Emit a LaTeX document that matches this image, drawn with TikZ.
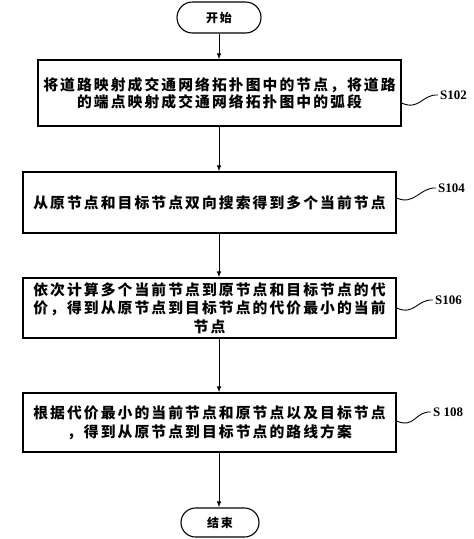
\documentclass[tikz,border=0pt]{standalone}
\usepackage{fontspec}
\newfontfamily\cjk{Noto Sans CJK SC}[LetterSpace=14]
\newfontfamily\lblfont{Liberation Serif}
\usetikzlibrary{shapes.misc,arrows.meta}
\begin{document}
\begin{tikzpicture}[x=1pt,y=-1pt,
  procbox/.style={draw,line width=1.1pt,rectangle,inner sep=0pt,align=center},
  termbox/.style={draw,line width=1.1pt,rounded rectangle,inner sep=0pt,
    font=\cjk\bfseries\fontsize{12}{13}\selectfont},
  steplbl/.style={anchor=west,inner sep=2pt,font=\lblfont\bfseries\fontsize{13}{14}\selectfont},
  arr/.style={line width=1pt,-{Latex[length=6pt,width=4.5pt]}},
  wave/.style={line width=0.9pt}]
\fill[white] (0,0) rectangle (474,539);
\useasboundingbox (0,0) rectangle (474,539);

\node[termbox,minimum width=84pt,minimum height=31pt] (st) at (219,17.5) {开始};

\node[procbox,minimum width=363pt,minimum height=66pt,
  font=\cjk\bfseries\fontsize{14.8}{17}\selectfont] (b1) at (219.5,93)
  {将道路映射成交通网络拓扑图中的节点，将道路\\的端点映射成交通网络拓扑图中的弧段};

\node[procbox,minimum width=373pt,minimum height=61pt,
  font=\cjk\bfseries\fontsize{14.8}{17}\selectfont] (b2) at (209.5,202.5)
  {从原节点和目标节点双向搜索得到多个当前节点};

\node[procbox,minimum width=373pt,minimum height=60pt,
  font=\cjk\bfseries\fontsize{14.8}{18.5}\selectfont] (b3) at (209.5,308)
  {依次计算多个当前节点到原节点和目标节点的代\\价，得到从原节点到目标节点的代价最小的当前\\节点};

\node[procbox,minimum width=373pt,minimum height=59pt,
  font=\cjk\bfseries\fontsize{14.8}{19}\selectfont] (b4) at (209.5,422.5)
  {根据代价最小的当前节点和原节点以及目标节点\\，得到从原节点到目标节点的路线方案};

\node[termbox,minimum width=78pt,minimum height=29pt] (en) at (220,522.5) {结束};

\node[steplbl] (l1) at (438,95) {S102};
\node[steplbl] (l2) at (436,188) {S104};
\node[steplbl] (l3) at (433,300) {S106};
\node[steplbl] (l4) at (431,412) {S 108};

\draw[wave] (b1.east |- 0,103) .. controls +(18,8) and +(-16,-1) .. (l1.west);
\draw[wave] (b2.east |- 0,198) .. controls +(18,8) and +(-16,-1) .. (l2.west);
\draw[wave] (b3.east |- 0,308) .. controls +(18,8) and +(-16,-1) .. (l3.west);
\draw[wave] (b4.east |- 0,421) .. controls +(18,8) and +(-16,-1) .. (l4.west);

\draw[arr] (st.south) -- (st.south |- b1.north);
\draw[arr] (b1.south -| st.south) -- (b2.north -| st.south);
\draw[arr] (b2.south -| st.south) -- (b3.north -| st.south);
\draw[arr] (b3.south -| st.south) -- (b4.north -| st.south);
\draw[arr] (b4.south -| st.south) -- (en.north -| st.south);
\end{tikzpicture}
\end{document}
